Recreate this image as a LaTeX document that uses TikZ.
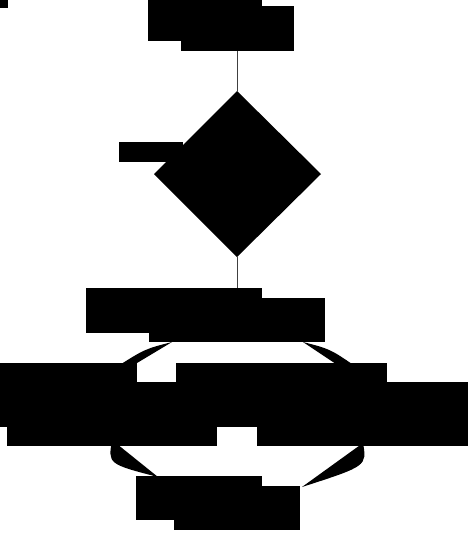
\documentclass[tikz,border=0pt]{standalone}
\begin{document}
\begin{tikzpicture}[x=1pt,y=-1pt]
\tikzset{blk/.style={fill=black,inner sep=0pt,outer sep=0pt,draw=none},
         link/.style={line width=0.6pt,black!75}}
\useasboundingbox (0,0) rectangle (474,536);
% corner mark
\fill (0,0) rectangle (8,8);
% start
\fill (148,0) rectangle (262,41);
\node[blk,minimum width=113pt,minimum height=45pt] (start) at (237.5,28.5) {};
% decision
\coordinate (dtop) at (237,91);
\coordinate (dright) at (321,174);
\coordinate (dbot) at (237,257);
\coordinate (dleft) at (154,174);
\fill (dtop) -- (dright) -- (dbot) -- (dleft) -- cycle;
\fill (119,142) rectangle (183,162);
% process
\fill (86,288) rectangle (262,333);
\node[blk,minimum width=176pt,minimum height=44pt] (proc) at (237,320) {};
% branches
\fill (0,363) rectangle (137,427);
\node[blk,minimum width=210pt,minimum height=64pt] (left) at (112,414) {};
\fill (176,363) rectangle (387,427);
\node[blk,minimum width=211pt,minimum height=64pt] (right) at (362.5,414) {};
% end
\fill (136,476) rectangle (262,520);
\node[blk,minimum width=126pt,minimum height=44pt] (stop) at (237,508) {};
% connectors
\draw[link] (237,51) -- (dtop);
\draw[link] (dbot) -- (237,288);
\fill (172,342) .. controls (145,349) .. (118,366) -- (132,366) -- cycle;
\fill (303,342) .. controls (330,349) .. (355,366) -- (339,366) -- cycle;
\fill (112,440) .. controls (108,464) .. (158,477) -- cycle;
\fill (363,443) .. controls (367,466) .. (302,487) -- cycle;
\end{tikzpicture}
\end{document}
